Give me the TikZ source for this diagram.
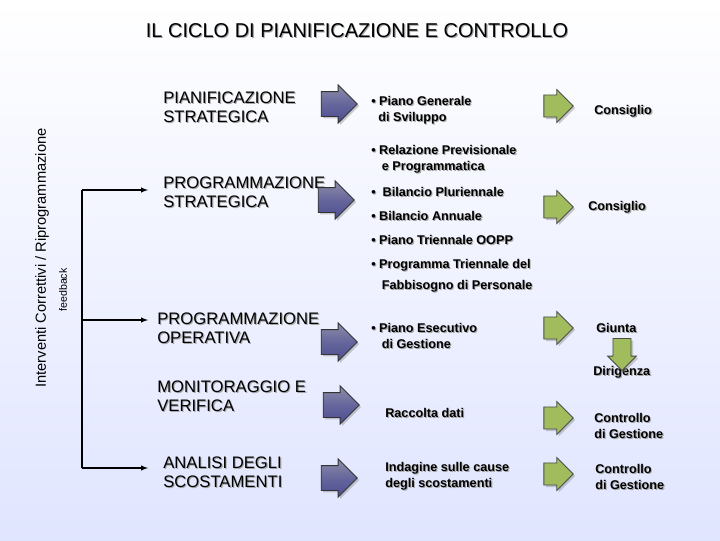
\documentclass[tikz,border=0pt]{standalone}
\usepackage{fontspec}
\setmainfont{Liberation Sans}
\usetikzlibrary{shapes.arrows,shadows}
\newcommand{\shd}[1]{\leavevmode\rlap{\kern0.8pt\raisebox{-0.8pt}{\textcolor{black!35}{#1}}}#1}
\begin{document}
\begin{tikzpicture}[x=0.75pt,y=-0.75pt,
 big/.style={align=left,anchor=west,font=\fontsize{12.5}{14}\selectfont,inner sep=0},
 small/.style={align=left,anchor=west,font=\bfseries\fontsize{9.5}{12}\selectfont,inner sep=0},
 barrow/.style={single arrow,draw=black!80,line width=0.6pt,top color=blue!25!black!45!white,bottom color=blue!40!black!70,middle color=blue!35!black!60,minimum height=27pt,single arrow head extend=5pt,inner ysep=9pt,inner xsep=0pt,drop shadow={shadow xshift=1.5pt,shadow yshift=-1.5pt,opacity=.4}},
 garrow/.style={single arrow,draw=black!70,line width=0.6pt,fill=yellow!60!green!60!gray,minimum height=22pt,single arrow head extend=4pt,inner ysep=8pt,inner xsep=0pt,drop shadow={shadow xshift=1.5pt,shadow yshift=-1.5pt,opacity=.4}},
 fb/.style={-latex,line width=0.8pt}]
\shade[top color=white,bottom color=cyan!15!blue!12] (0,0) rectangle (720,540);
\node (title) at (357,31) {\fontsize{15}{17}\selectfont\shd{IL CICLO DI PIANIFICAZIONE E CONTROLLO}};
\node[rotate=90,font=\fontsize{11}{13}\selectfont] (iv) at (42,258) {Interventi Correttivi / Riprogrammazione};
\node[rotate=90,font=\fontsize{8}{10}\selectfont] (fbk) at (63,290) {feedback};
% left labels
\node[big] (l1) at (163,108) {\shd{PIANIFICAZIONE}\\\shd{STRATEGICA}};
\node[big] (l2) at (163,193) {\shd{PROGRAMMAZIONE}\\\shd{STRATEGICA}};
\node[big] (l3) at (157,329) {\shd{PROGRAMMAZIONE}\\\shd{OPERATIVA}};
\node[big] (l4) at (157,397) {\shd{MONITORAGGIO E}\\\shd{VERIFICA}};
\node[big] (l5) at (163,473) {\shd{ANALISI DEGLI}\\\shd{SCOSTAMENTI}};
% feedback
\coordinate (fa) at (82,190); \coordinate (fc) at (82,468); \coordinate (fb) at (82,320);
\coordinate (t2) at (148,190); \coordinate (t3) at (148,320); \coordinate (t5) at (148,468);
\draw[line width=0.8pt] (fa) -- (fc);
\draw[fb] (fa) -- (t2); \draw[fb] (fb) -- (t3); \draw[fb] (fc) -- (t5);
% blue arrows
\node[barrow] (a1) at (333,104) {};
\node[barrow] (a2) at (330,200) {};
\node[barrow] (a3) at (333,342) {};
\node[barrow] (a4) at (335,405) {};
\node[barrow] (a5) at (333,478) {};
% middle texts
\node[small] (m1) at (371,111) {\shd{• Piano Generale}\\\ \ \shd{di Sviluppo}};
\node[small] (m2) at (371,160) {\shd{• Relazione Previsionale}\\\ \ \ \shd{e Programmatica}};
\node[small] (m3) at (371,192) {\shd{• \ Bilancio Pluriennale}};
\node[small] (m4) at (371,216) {\shd{• Bilancio Annuale}};
\node[small] (m5) at (371,240) {\shd{• Piano Triennale OOPP}};
\node[small] (m6) at (371,276) {\shd{• Programma Triennale del}\\[4pt]\ \ \ \shd{Fabbisogno di Personale}};
\node[small] (m7) at (371,336) {\shd{• Piano Esecutivo}\\\ \ \ \shd{di Gestione}};
\node[small] (m8) at (385,413) {\shd{Raccolta dati}};
\node[small] (m9) at (385,477) {\shd{Indagine sulle cause}\\\shd{degli scostamenti}};
% green arrows
\node[garrow] (g1) at (553,106) {};
\node[garrow] (g2) at (553,207) {};
\node[garrow] (g3) at (553,328) {};
\node[garrow] (g4) at (553,418) {};
\node[garrow] (g5) at (553,474) {};
% right texts
\node[small] (r1) at (594,112) {\shd{Consiglio}};
\node[small] (r2) at (588,208) {\shd{Consiglio}};
\node[small] (r3) at (596,328) {\shd{Giunta}};
\node[small] (r4) at (593,373) {\shd{Dirigenza}};
\node[small] (r5) at (594,426) {\shd{Controllo}\\\shd{di Gestione}};
\node[small] (r6) at (595,477) {\shd{Controllo}\\\shd{di Gestione}};
\node[single arrow,shape border rotate=270,draw=black!70,line width=0.6pt,fill=yellow!60!green!60!gray,minimum height=24pt,single arrow head extend=4pt,inner xsep=6.5pt,inner ysep=0pt,drop shadow={shadow xshift=1.5pt,shadow yshift=-1.5pt,opacity=.4}] (d) at (622,350) {};
\end{tikzpicture}
\end{document}
